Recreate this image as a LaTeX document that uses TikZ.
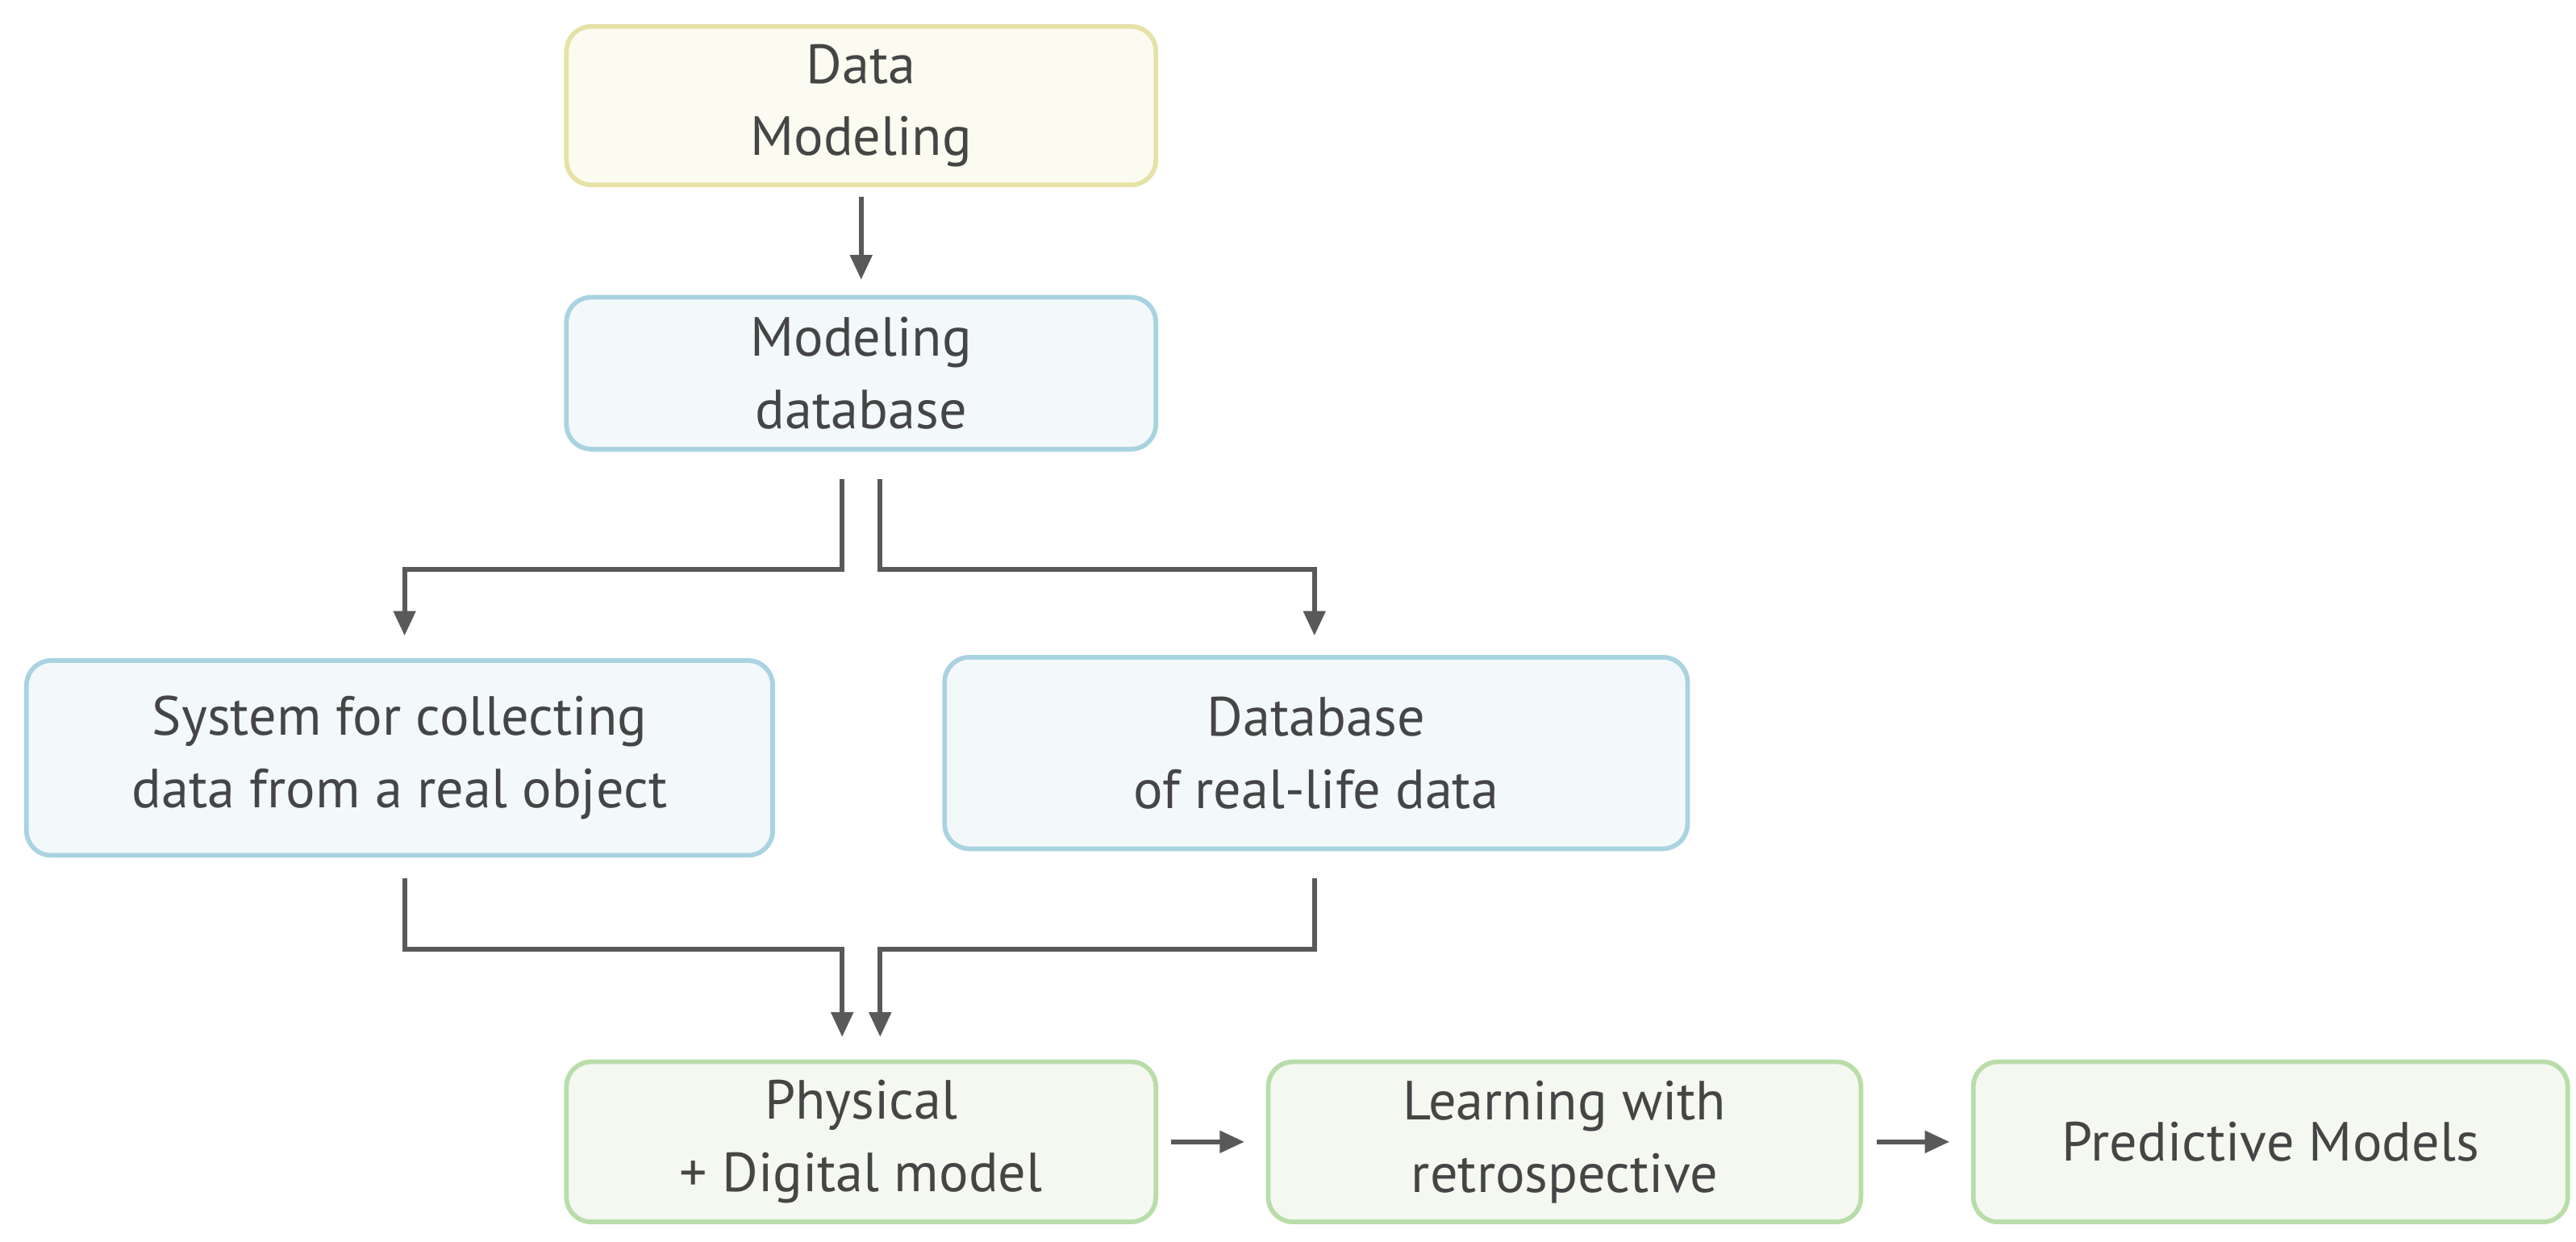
\documentclass[tikz,border=0pt]{standalone}
\usepackage{fontspec}
\setmainfont{PT Sans}
\usetikzlibrary{arrows.meta}
\definecolor{yb}{HTML}{E6E2A6}\definecolor{yf}{HTML}{FBFBF1}
\definecolor{bb}{HTML}{A9D3E0}\definecolor{bf}{HTML}{F3F8FB}
\definecolor{gb}{HTML}{B9DDA9}\definecolor{gf}{HTML}{F4F8F0}
\definecolor{ln}{HTML}{595959}\definecolor{tx}{HTML}{454545}
\begin{document}
\begin{tikzpicture}[x=0.02cm,y=-0.02cm,
 box/.style={rounded corners=0.3cm,line width=1.6pt,align=center,text=tx,font=\fontsize{19}{25}\selectfont},
 con/.style={ln,line width=1.7pt},
 arr/.style={con,-{Triangle[length=0.3cm,width=0.26cm]}}]
\useasboundingbox (0,0) rectangle (1560,751.7);
\node[box,draw=yb,fill=yf,minimum width=7.14cm,minimum height=1.92cm] (dm) at (521.5,64) {Data\\Modeling};
\node[box,draw=bb,fill=bf,minimum width=7.14cm,minimum height=1.84cm] (mdb) at (521.5,226) {Modeling\\database};
\node[box,draw=bb,fill=bf,minimum width=9.04cm,minimum height=2.36cm] (sys) at (242,459) {System for collecting\\data from a real object};
\node[box,draw=bb,fill=bf,minimum width=9.0cm,minimum height=2.32cm] (rdb) at (797,456) {Database\\of real-life data};
\node[box,draw=gb,fill=gf,minimum width=7.14cm,minimum height=1.94cm] (pd) at (521.5,691.5) {Physical\\+ Digital model};
\node[box,draw=gb,fill=gf,minimum width=7.18cm,minimum height=1.94cm] (lr) at (947.5,691.5) {Learning with\\retrospective};
\node[box,draw=gb,fill=gf,minimum width=7.2cm,minimum height=1.94cm] (pm) at (1375,691.5) {Predictive Models};
\coordinate (s1) at (510,290); \coordinate (s2) at (533,290);
\coordinate (t1) at (245,385); \coordinate (t2) at (796,385);
\coordinate (u1) at (245,532); \coordinate (u2) at (796,532);
\coordinate (v1) at (510,628); \coordinate (v2) at (533,628);
\draw[arr] (dm.south) ++(0,6) -- ++(0,50);
\draw[arr] (s1) |- (245,345) -- (t1);
\draw[arr] (s2) |- (796,345) -- (t2);
\draw[arr] (u1) |- (510,575) -- (v1);
\draw[arr] (u2) |- (533,575) -- (v2);
\draw[arr] ([xshift=0.16cm]pd.east) -- ([xshift=-0.26cm]lr.west);
\draw[arr] ([xshift=0.16cm]lr.east) -- ([xshift=-0.26cm]pm.west);
\end{tikzpicture}
\end{document}
